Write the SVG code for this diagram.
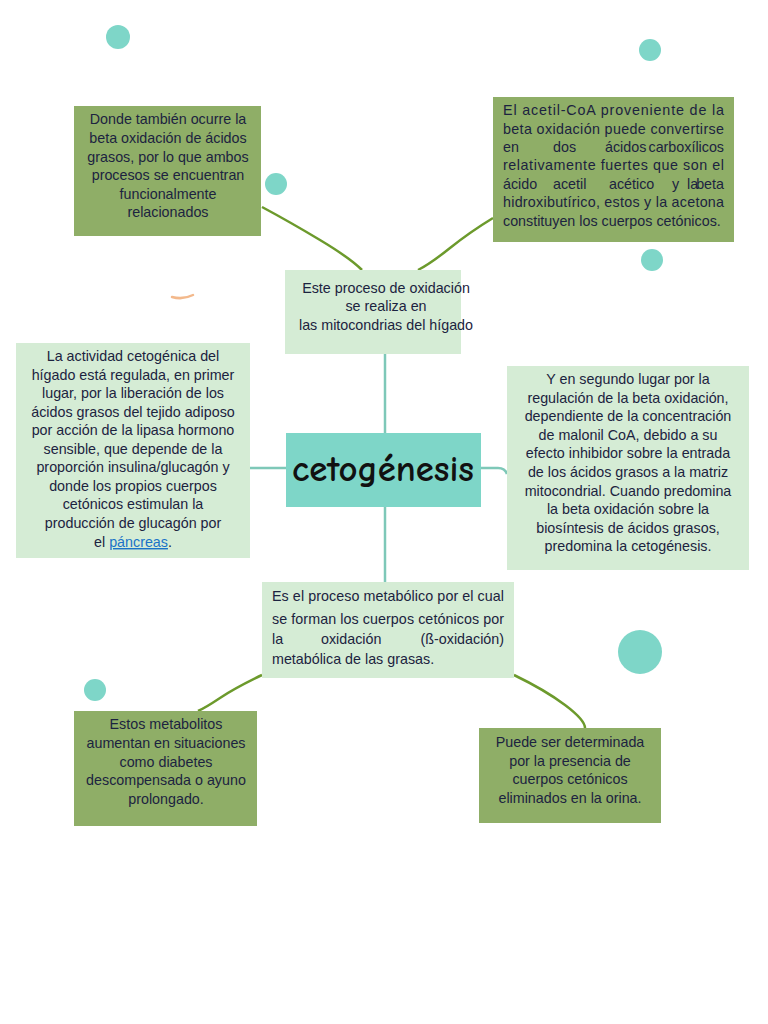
<svg xmlns="http://www.w3.org/2000/svg" width="768" height="1024" viewBox="0 0 768 1024">
<style>
.olive{fill:#8fae67}
.light{fill:#d5ecd5}
.t{font-family:"Liberation Sans",Arial,sans-serif;font-size:14.3px;fill:#1c2340}
.c{text-anchor:middle}
.e{text-anchor:end}
.dot{fill:#7ed6c8}
.g{fill:none;stroke:#6c9a2c;stroke-width:2.5}
.b{fill:none;stroke:#7ec8b8;stroke-width:2.5}
</style>
<rect width="768" height="1024" fill="#fff"/>
<g id="decor">
<circle class="dot" cx="118" cy="37" r="12"/>
<circle class="dot" cx="650" cy="50" r="11"/>
<circle class="dot" cx="276" cy="184" r="11"/>
<circle class="dot" cx="652" cy="260" r="11"/>
<circle class="dot" cx="640" cy="652" r="22"/>
<circle class="dot" cx="95" cy="690" r="11"/>
<path d="M172 297 Q183 300 193 295" fill="none" stroke="#f3b98c" stroke-width="2.5" stroke-linecap="round"/>
</g>
<g id="connectors">
<path class="g" d="M262 207 Q290 222 320 240 T362 270"/>
<path class="g" d="M493 218 Q470 232 450 248 T418 270"/>
<path class="g" d="M262 675 Q235 688 220 698 T198 711"/>
<path class="g" d="M514 675 Q545 690 565 705 T585 728"/>
<path class="b" d="M385 354 V433"/>
<path class="b" d="M385 507 V582"/>
<path class="b" d="M250 468 H286"/>
<path class="b" d="M481 468 H498 Q505 468 507 474"/>
</g>
<g id="n1">
<rect class="olive" x="74" y="106" width="187" height="130"/>
<text class="t c" x="168"><tspan x="168" y="124">Donde también ocurre la</tspan><tspan x="168" y="143">beta oxidación de ácidos</tspan><tspan x="168" y="162">grasos, por lo que ambos</tspan><tspan x="168" y="180">procesos se encuentran</tspan><tspan x="168" y="199">funcionalmente</tspan><tspan x="168" y="217">relacionados</tspan></text>
</g>
<g id="n2">
<rect class="olive" x="493" y="97" width="241" height="145"/>
<text class="t"><tspan x="503" y="115" textLength="221" lengthAdjust="spacing">El acetil-CoA proveniente de la</tspan><tspan x="503" y="134" textLength="221" lengthAdjust="spacing">beta oxidación puede convertirse</tspan><tspan x="503" y="152">en</tspan><tspan x="553" y="152">dos</tspan><tspan x="605" y="152">ácidos</tspan><tspan x="724" y="152" class="e">carboxílicos</tspan><tspan x="503" y="170" textLength="221" lengthAdjust="spacing">relativamente fuertes que son el</tspan><tspan x="503" y="189">ácido</tspan><tspan x="553" y="189">acetil</tspan><tspan x="609" y="189">acético</tspan><tspan x="672" y="189">y</tspan><tspan x="687" y="189">la</tspan><tspan x="724" y="189" class="e">beta</tspan><tspan x="503" y="207" textLength="221" lengthAdjust="spacing">hidroxibutírico, estos y la acetona</tspan><tspan x="503" y="226">constituyen los cuerpos cetónicos.</tspan></text>
</g>
<g id="n3">
<rect class="light" x="285" y="270" width="176" height="84"/>
<text class="t c"><tspan x="386" y="293">Este proceso de oxidación</tspan><tspan x="386" y="311">se realiza en</tspan><tspan x="386" y="330">las mitocondrias del hígado</tspan></text>
</g>
<g id="n4">
<rect class="light" x="16" y="343" width="234" height="215"/>
<text class="t c"><tspan x="133" y="361">La actividad cetogénica del</tspan><tspan x="133" y="380">hígado está regulada, en primer</tspan><tspan x="133" y="398">lugar, por la liberación de los</tspan><tspan x="133" y="417">ácidos grasos del tejido adiposo</tspan><tspan x="133" y="435">por acción de la lipasa hormono</tspan><tspan x="133" y="454">sensible, que depende de la</tspan><tspan x="133" y="472">proporción insulina/glucagón y</tspan><tspan x="133" y="491">donde los propios cuerpos</tspan><tspan x="133" y="509">cetónicos estimulan la</tspan><tspan x="133" y="528">producción de glucagón por</tspan><tspan x="133" y="547">el <tspan fill="#1a73c8" text-decoration="underline">páncreas</tspan>.</tspan></text>
</g>
<g id="n5">
<rect x="286" y="433" width="195" height="74" fill="#7ed6c8"/>
<text x="292" y="481" textLength="182" lengthAdjust="spacingAndGlyphs" font-family="'Comic Neue','DejaVu Sans',sans-serif" font-weight="bold" font-size="36" fill="#111">cetogénesis</text>
</g>
<g id="n6">
<rect class="light" x="507" y="366" width="242" height="204"/>
<text class="t c"><tspan x="628" y="384">Y en segundo lugar por la</tspan><tspan x="628" y="403">regulación de la beta oxidación,</tspan><tspan x="628" y="421">dependiente de la concentración</tspan><tspan x="628" y="440">de malonil CoA, debido a su</tspan><tspan x="628" y="458">efecto inhibidor sobre la entrada</tspan><tspan x="628" y="477">de los ácidos grasos a la matriz</tspan><tspan x="628" y="496">mitocondrial. Cuando predomina</tspan><tspan x="628" y="514">la beta oxidación sobre la</tspan><tspan x="628" y="533">biosíntesis de ácidos grasos,</tspan><tspan x="628" y="551">predomina la cetogénesis.</tspan></text>
</g>
<g id="n7">
<rect class="light" x="262" y="582" width="252" height="96"/>
<text class="t"><tspan x="272" y="601" textLength="232" lengthAdjust="spacing">Es el proceso metabólico por el cual</tspan><tspan x="272" y="624" textLength="232" lengthAdjust="spacing">se forman los cuerpos cetónicos por</tspan><tspan x="272" y="644">la</tspan><tspan x="321" y="644">oxidación</tspan><tspan x="504" y="644" class="e">(ß-oxidación)</tspan><tspan x="272" y="664">metabólica de las grasas.</tspan></text>
</g>
<g id="n8">
<rect class="olive" x="74" y="711" width="183" height="115"/>
<text class="t c"><tspan x="166" y="729">Estos metabolitos</tspan><tspan x="166" y="748">aumentan en situaciones</tspan><tspan x="166" y="767">como diabetes</tspan><tspan x="166" y="785">descompensada o ayuno</tspan><tspan x="166" y="804">prolongado.</tspan></text>
</g>
<g id="n9">
<rect class="olive" x="479" y="728" width="182" height="95"/>
<text class="t c"><tspan x="570" y="747">Puede ser determinada</tspan><tspan x="570" y="766">por la presencia de</tspan><tspan x="570" y="784">cuerpos cetónicos</tspan><tspan x="570" y="803">eliminados en la orina.</tspan></text>
</g>
</svg>
